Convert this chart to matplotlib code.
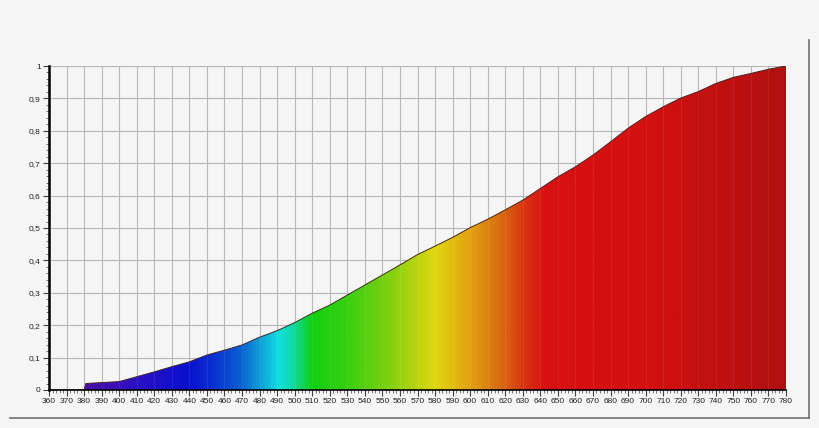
import numpy as np
import matplotlib
matplotlib.use("Agg")
import matplotlib.pyplot as plt
from matplotlib.colors import LinearSegmentedColormap
from matplotlib.ticker import MultipleLocator, FuncFormatter

# wavelength (nm) and normalised value
wavelength = [360, 370, 380, 381, 390, 400, 410, 420, 430, 440, 450, 460, 470,
              480, 490, 500, 510, 520, 530, 540, 550, 560, 570, 580, 590, 600,
              610, 620, 630, 640, 650, 660, 670, 680, 690, 700, 710, 720, 730,
              740, 750, 760, 770, 780]
value = [0, 0, 0, 0.020, 0.023, 0.026, 0.041, 0.056, 0.072, 0.087, 0.108,
         0.123, 0.139, 0.163, 0.183, 0.208, 0.237, 0.262, 0.293, 0.324, 0.355,
         0.386, 0.418, 0.444, 0.471, 0.501, 0.527, 0.556, 0.586, 0.622, 0.658,
         0.689, 0.725, 0.766, 0.808, 0.844, 0.874, 0.901, 0.921, 0.946, 0.965,
         0.977, 0.990, 1.000]

# spectrum colours along the x axis
stop_nm = [360, 380, 406, 438, 453, 469, 480, 491, 499, 510, 530, 554, 580,
           601, 621, 632, 644, 700, 780]
stop_col = ['#4a0fa8', '#4a0fa8', '#3010c0', '#0a10d0', '#0a30d0', '#0a60d0',
            '#10a0d8', '#10e0e0', '#10d8a0', '#10d010', '#38d010', '#80d010',
            '#e0d810', '#e0a010', '#d86010', '#d83010', '#d81010', '#d41010',
            '#b01010']

x_min, x_max = 360, 780
pos = [(n - x_min) / (x_max - x_min) for n in stop_nm]
cmap = LinearSegmentedColormap.from_list('spec', list(zip(pos, stop_col)))

bg = '#f5f5f5'
fig = plt.figure(figsize=(8.2, 4.28), dpi=100, facecolor=bg)
ax = fig.add_axes([49 / 820, 38 / 428, 737 / 820, 324 / 428], facecolor=bg)

ax.set_xlim(x_min, x_max)
ax.set_ylim(0, 1)

# grid behind everything
ax.set_axisbelow(True)
ax.grid(True, which='major', color='#b4b4b4', linewidth=0.8)

# gradient fill clipped to the area under the curve
grad = np.linspace(0, 1, 840).reshape(1, -1)
img = ax.imshow(grad, cmap=cmap, aspect='auto', extent=[x_min, x_max, 0, 1],
                origin='lower', zorder=2, interpolation='bilinear')
poly = ax.fill_between(wavelength, 0, value, facecolor='none', edgecolor='none')
clip = poly.get_paths()[0]
img.set_clip_path(clip, transform=ax.transData)
ax.plot(wavelength, value, color='#402828', linewidth=0.7, zorder=3)

# faint grid lines showing through the fill
for xv in range(370, 780, 10):
    ax.axvline(xv, color='white', alpha=0.07, linewidth=0.8, zorder=2.5)

ax.xaxis.set_major_locator(MultipleLocator(10))
ax.xaxis.set_minor_locator(MultipleLocator(2))
ax.yaxis.set_major_locator(MultipleLocator(0.1))
ax.yaxis.set_minor_locator(MultipleLocator(0.02))
ax.yaxis.set_major_formatter(FuncFormatter(
    lambda v, p: '0' if abs(v) < 1e-9 else ('1' if abs(v - 1) < 1e-9 else f'{v:.1f}'.replace('.', ','))))

for s in ['top', 'right']:
    ax.spines[s].set_visible(False)
ax.spines['left'].set_linewidth(1.8)
ax.spines['bottom'].set_linewidth(1.2)
ax.spines['left'].set_zorder(4)
ax.spines['bottom'].set_zorder(4)

ax.tick_params(axis='both', which='major', length=4, width=0.8, color='#404040',
               labelsize=6, labelcolor='#202020', pad=2)
ax.tick_params(axis='both', which='minor', length=2, width=0.6, color='#606060')
for lab in ax.get_xticklabels() + ax.get_yticklabels():
    lab.set_fontfamily('Liberation Sans')

# outer frame lines (right and bottom)
fig.add_artist(plt.Line2D([809.5 / 820, 809.5 / 820], [1 - 40 / 428, 1 - 417.5 / 428],
                          color='#707070', linewidth=1.2))
fig.add_artist(plt.Line2D([10 / 820, 809.5 / 820], [1 - 417.5 / 428, 1 - 417.5 / 428],
                          color='#707070', linewidth=1.2))

fig.savefig('out.png', dpi=100, facecolor=bg)
